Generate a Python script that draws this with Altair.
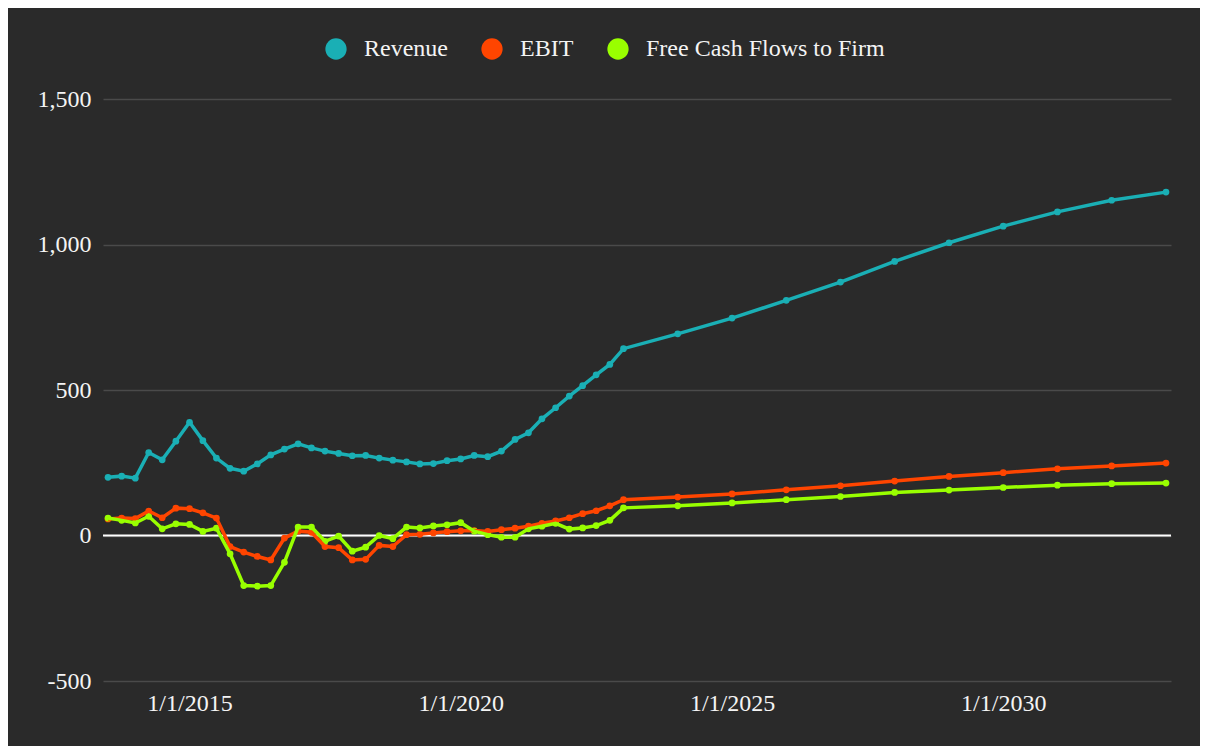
import altair as alt
import pandas as pd

dates = [
    "2013-07-01", "2013-10-01", "2014-01-01", "2014-04-01", "2014-07-01", "2014-10-01",
    "2015-01-01", "2015-04-01", "2015-07-01", "2015-10-01", "2016-01-01", "2016-04-01",
    "2016-07-01", "2016-10-01", "2017-01-01", "2017-04-01", "2017-07-01", "2017-10-01",
    "2018-01-01", "2018-04-01", "2018-07-01", "2018-10-01", "2019-01-01", "2019-04-01",
    "2019-07-01", "2019-10-01", "2020-01-01", "2020-04-01", "2020-07-01", "2020-10-01",
    "2021-01-01", "2021-04-01", "2021-07-01", "2021-10-01", "2022-01-01", "2022-04-01",
    "2022-07-01", "2022-10-01", "2023-01-01",
    "2024-01-01", "2025-01-01", "2026-01-01", "2027-01-01", "2028-01-01",
    "2029-01-01", "2030-01-01", "2031-01-01", "2032-01-01", "2033-01-01",
]

revenue = [
    200, 204, 197, 285, 260, 324, 389, 326, 266, 231, 221, 246, 277, 297, 315, 301,
    290, 282, 274, 275, 266, 259, 253, 246, 247, 257, 263, 275, 271, 290, 330, 353,
    401, 439, 479, 515, 552, 588, 642,
    693, 747, 808, 871, 942, 1006, 1063, 1112, 1152, 1180,
]

ebit = [
    57, 60, 58, 84, 61, 94, 92, 78, 60, -38, -57, -72, -84, -9, 15, 11,
    -38, -42, -84, -82, -34, -38, 3, 4, 9, 13, 16, 17, 14, 20, 25, 32,
    42, 50, 61, 75, 85, 102, 123,
    132, 143, 157, 171, 187, 203, 216, 229, 239, 249,
]

fcff = [
    60, 52, 43, 66, 23, 40, 38, 14, 25, -63, -172, -174, -172, -92, 29, 29,
    -20, -2, -54, -40, 0, -11, 29, 26, 33, 37, 44, 15, 3, -6, -6, 23,
    32, 42, 22, 26, 34, 52, 95,
    102, 112, 123, 134, 148, 156, 165, 173, 178, 180,
]

series_names = ["Revenue", "EBIT", "Free Cash Flows to Firm"]
series_colors = ["#1aafb5", "#ff4500", "#99ff00"]
y_ticks = [-500, 0, 500, 1000, 1500]
x_tick_years = [2015, 2020, 2025, 2030]

rows = []
for name, vals in zip(series_names, [revenue, ebit, fcff]):
    for d, v in zip(dates, vals):
        rows.append({"date": d, "value": v, "series": name})
df = pd.DataFrame(rows)
zero_df = pd.DataFrame({"y": [0]})

FONT = "Liberation Serif"
TEXT = "#f4f4f4"

y_scale = alt.Scale(domain=[-500, 1500], nice=False, zero=False)

x_enc = alt.X(
    "date:T",
    title=None,
    scale=alt.Scale(type="utc", nice=False, padding=5),
    axis=alt.Axis(
        values=[alt.DateTime(year=yr, month=1, date=1, utc=True) for yr in x_tick_years],
        format="%-m/%-d/%Y",
        grid=False,
        ticks=False,
        domain=False,
        labelPadding=10,
        labelFontSize=24,
        labelFont=FONT,
        labelColor=TEXT,
    ),
)
y_axis = alt.Axis(
    values=y_ticks,
    labelExpr="replace(format(datum.value, ','), '\u2212', '-')",
    grid=True,
    gridColor="#4a4a4a",
    gridWidth=1.5,
    ticks=False,
    domain=False,
    labelPadding=12,
    labelFontSize=24,
    labelFont=FONT,
    labelColor=TEXT,
    title=None,
)
y_enc = alt.Y("value:Q", title=None, scale=y_scale, axis=y_axis)
color_scale = alt.Scale(domain=series_names, range=series_colors)

base = alt.Chart(df)

points = base.mark_point(filled=True, size=45, opacity=1).encode(
    x=x_enc,
    y=y_enc,
    color=alt.Color(
        "series:N",
        scale=color_scale,
        sort=series_names,
        legend=alt.Legend(
            title=None,
            orient="none",
            direction="horizontal",
            legendX=221,
            legendY=-62,
            symbolType="circle",
            symbolSize=452,
            symbolStrokeWidth=0,
            symbolOpacity=1,
            labelFont=FONT,
            labelFontSize=24,
            labelColor=TEXT,
            labelOffset=16,
            labelLimit=500,
            columnPadding=32,
            padding=0,
        ),
    ),
)

lines = base.mark_line(strokeWidth=3.5).encode(
    x=x_enc,
    y=y_enc,
    color=alt.Color("series:N", scale=color_scale, sort=series_names, legend=None),
    detail="series:N",
)

zero_rule = alt.Chart(zero_df).mark_rule(color="#ffffff", strokeWidth=2).encode(
    y=alt.Y("y:Q", title=None, scale=y_scale, axis=y_axis)
)

chart = (
    alt.layer(zero_rule, points, lines)
    .properties(
        width=1068,
        height=582,
        background="#2a2a2a",
        autosize=alt.AutoSizeParams(type="none"),
        padding={"left": 95, "top": 91, "right": 29, "bottom": 65},
    )
    .configure(font=FONT)
    .configure_view(strokeWidth=0, stroke="transparent")
    .configure_axis(domain=False, ticks=False)
)

chart.save("out.html", embed_options={"renderer": "svg", "actions": False})
